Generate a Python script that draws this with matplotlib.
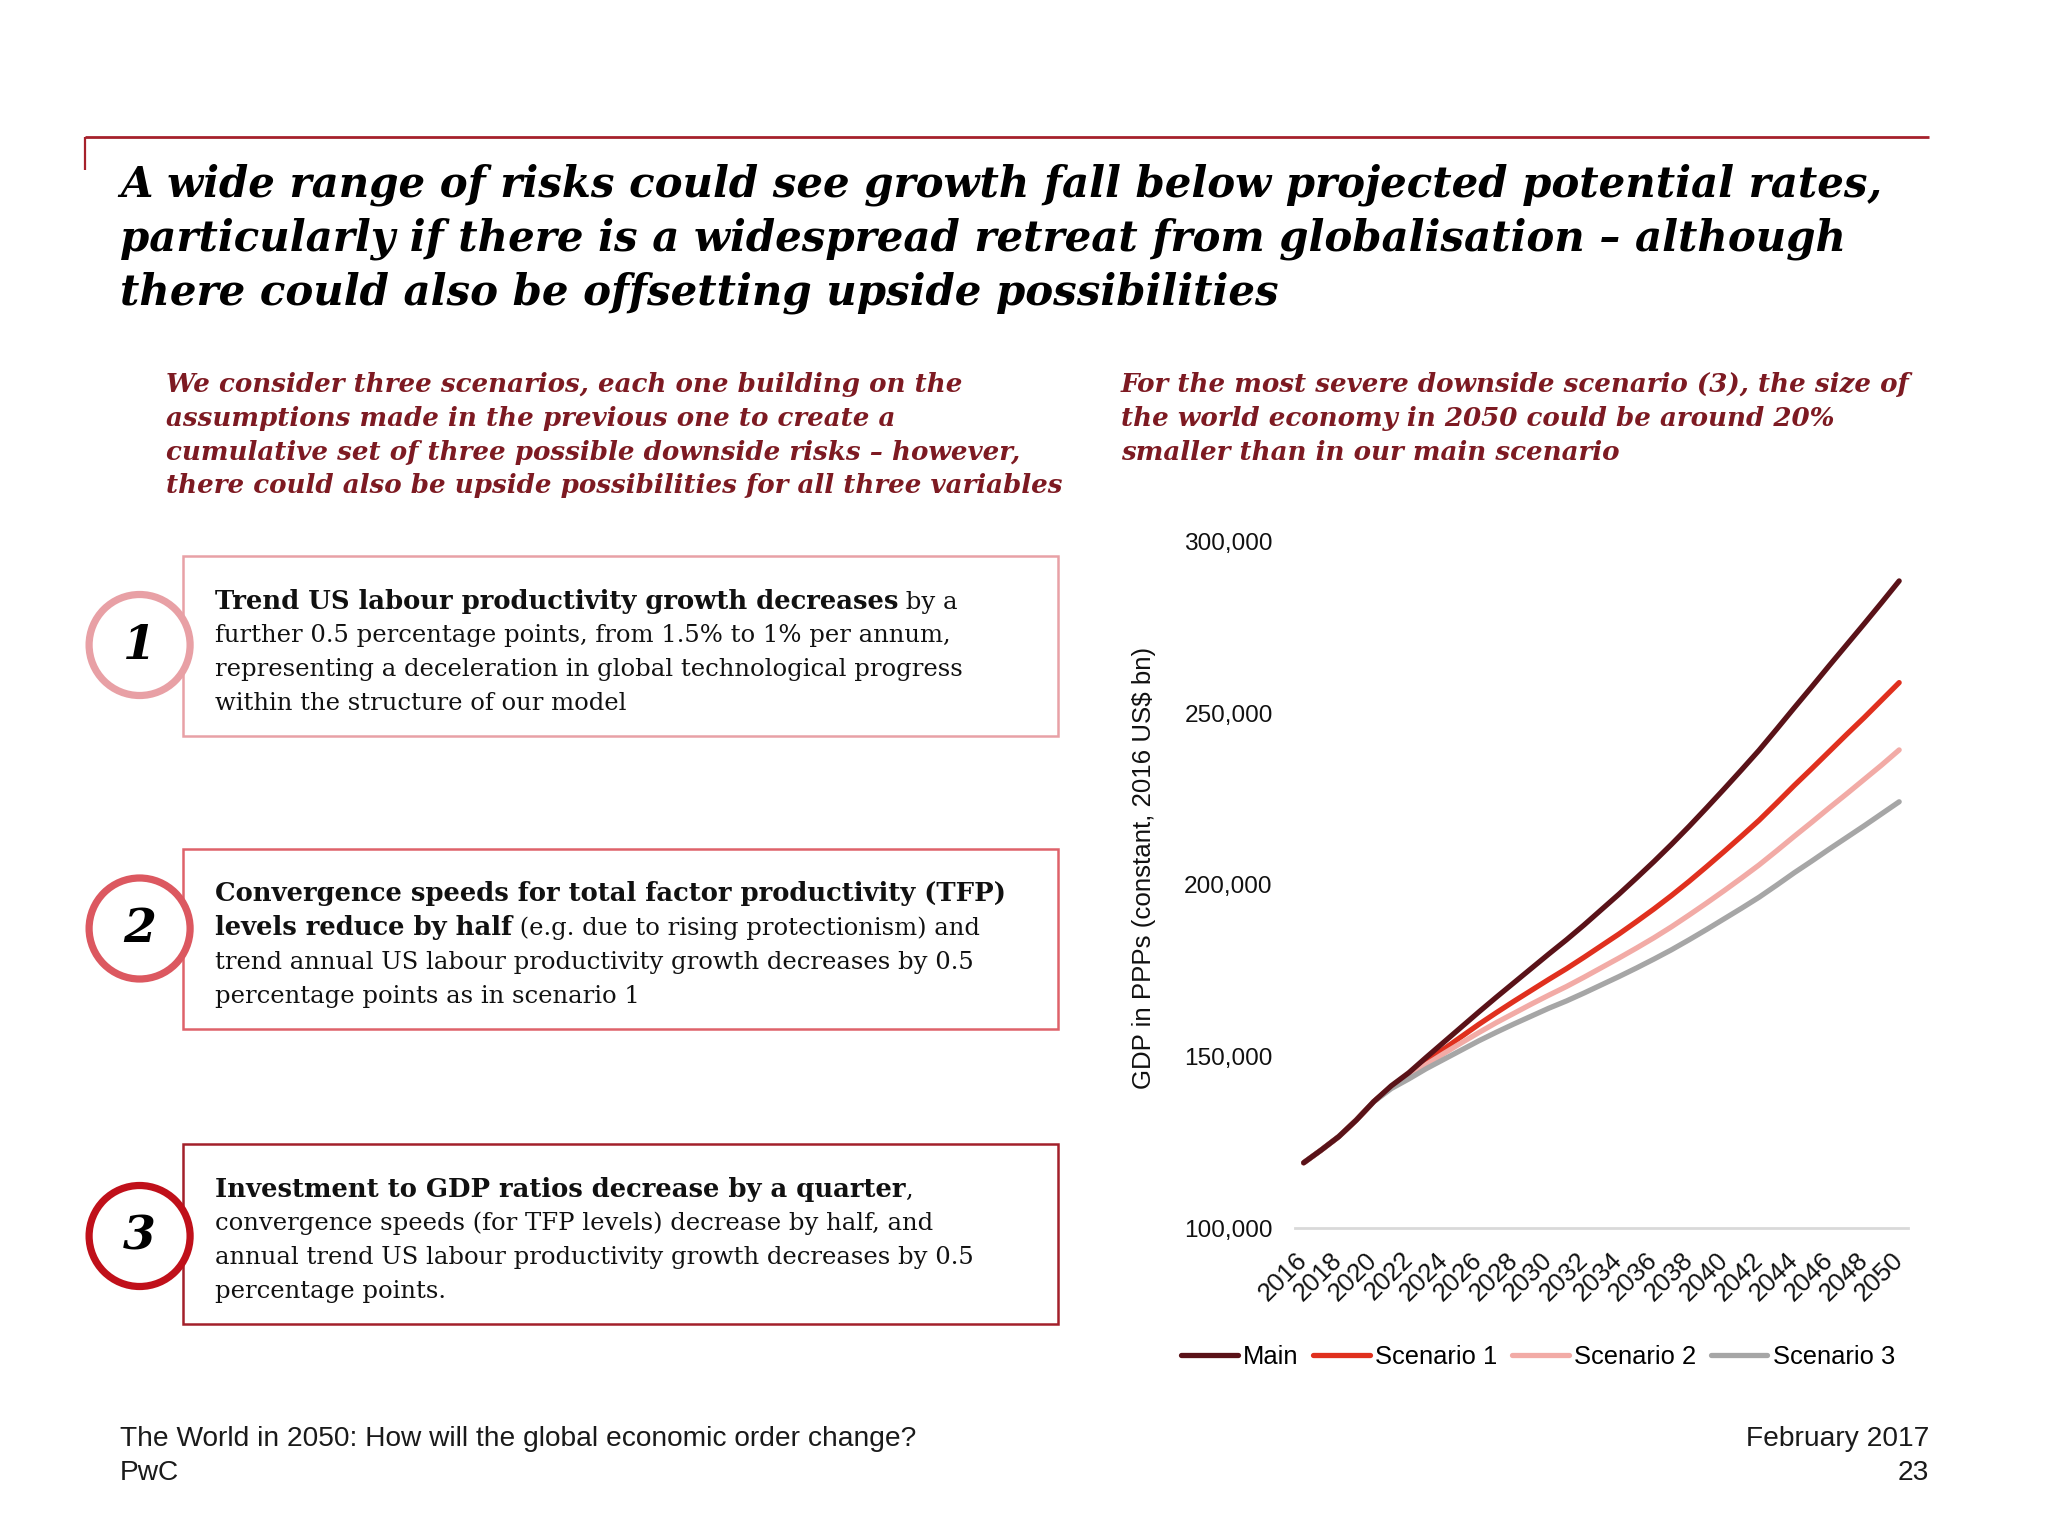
import numpy as np
import matplotlib
matplotlib.use('Agg')
import matplotlib.pyplot as plt
from matplotlib.patches import Rectangle, Circle
from matplotlib.ticker import FuncFormatter

plt.rcParams['font.family'] = ['Liberation Sans', 'DejaVu Sans']

# ---- chart data (GDP in PPPs, constant 2016 US$ bn, read in thousands) ----
years = np.arange(2016, 2051)
main = [119.1, 122.8, 126.7, 131.5, 136.9, 141.5, 145.3, 149.8, 154.2, 158.6,
        163.0, 167.3, 171.5, 175.7, 179.9, 184.0, 188.3, 192.8, 197.3, 202.0,
        206.8, 211.8, 217.0, 222.4, 227.9, 233.5, 239.2, 245.3, 251.5, 257.6,
        263.8, 269.9, 276.0, 282.2, 288.5]
scenario1 = [119.1, 122.8, 126.7, 131.5, 136.9, 141.2, 144.7, 148.6, 152.2, 155.8,
             159.4, 162.8, 166.1, 169.3, 172.5, 175.6, 178.9, 182.3, 185.7, 189.3,
             193.0, 196.9, 201.0, 205.3, 209.7, 214.2, 218.8, 223.8, 228.9, 233.8,
             238.8, 243.8, 248.7, 253.8, 258.9]
scenario2 = [119.1, 122.8, 126.7, 131.5, 136.9, 141.0, 144.2, 147.7, 150.9, 154.0,
             157.0, 159.9, 162.6, 165.3, 167.9, 170.4, 173.1, 175.9, 178.7, 181.6,
             184.6, 187.8, 191.2, 194.7, 198.3, 202.0, 205.8, 209.9, 214.1, 218.2,
             222.4, 226.5, 230.7, 234.9, 239.3]
scenario3 = [119.1, 122.8, 126.7, 131.5, 136.9, 140.7, 143.5, 146.5, 149.2, 151.9,
             154.6, 157.1, 159.5, 161.8, 164.1, 166.2, 168.5, 170.9, 173.3, 175.8,
             178.4, 181.1, 184.0, 187.0, 190.1, 193.2, 196.4, 199.9, 203.5, 206.9,
             210.4, 213.8, 217.2, 220.7, 224.2]
series_names = ['Main', 'Scenario 1', 'Scenario 2', 'Scenario 3']
series_colors = ['#5A1218', '#E0301E', '#F2ABA6', '#A6A6A6']
y_ticks = [100000, 150000, 200000, 250000, 300000]

# ---- slide text ----
title_lines = [
    'A wide range of risks could see growth fall below projected potential rates,',
    'particularly if there is a widespread retreat from globalisation \u2013 although',
    'there could also be offsetting upside possibilities',
]
left_sub = [
    'We consider three scenarios, each one building on the',
    'assumptions made in the previous one to create a',
    'cumulative set of three possible downside risks \u2013 however,',
    'there could also be upside possibilities for all three variables',
]
right_sub = [
    'For the most severe downside scenario (3), the size of',
    'the world economy in 2050 could be around 20%',
    'smaller than in our main scenario',
]
# each line: (bold part, regular part)
box_texts = [
    [('Trend US labour productivity growth decreases', ' by a'),
     ('', 'further 0.5 percentage points, from 1.5% to 1% per annum,'),
     ('', 'representing a deceleration in global technological progress'),
     ('', 'within the structure of our model')],
    [('Convergence speeds for total factor productivity (TFP)', ''),
     ('levels reduce by half', ' (e.g. due to rising protectionism) and'),
     ('', 'trend annual US labour productivity growth decreases by 0.5'),
     ('', 'percentage points as in scenario 1')],
    [('Investment to GDP ratios decrease by a quarter', ','),
     ('', 'convergence speeds (for TFP levels) decrease by half, and'),
     ('', 'annual trend US labour productivity growth decreases by 0.5'),
     ('', 'percentage points.')],
]
box_numbers = ['1', '2', '3']
box_edge = ['#E8A1A6', '#DE626A', '#A3202A']
ring_colors = ['#E8A0A5', '#DC5860', '#C0101A']

rule_red = '#A6212B'
sub_red = '#7D1A22'
serif = 'DejaVu Serif'

fig = plt.figure(figsize=(10.24, 7.68), dpi=200)
bg = fig.add_axes([0, 0, 1, 1])
bg.set_xlim(0, 2048)
bg.set_ylim(1536, 0)
bg.axis('off')

# top rule with little corner tick
bg.plot([85, 1929], [136.5, 136.5], color=rule_red, lw=1.0, solid_capstyle='butt')
bg.plot([85, 85], [136.5, 170], color=rule_red, lw=0.8, solid_capstyle='butt')

for i, line in enumerate(title_lines):
    bg.text(120, 197 + 54 * i, line, family=serif, fontsize=15.1,
            fontweight='bold', fontstyle='italic', va='baseline', ha='left')

for i, line in enumerate(left_sub):
    bg.text(166, 392 + 33.8 * i, line, family=serif, fontsize=9.4, color=sub_red,
            fontweight='bold', fontstyle='italic', va='baseline')
for i, line in enumerate(right_sub):
    bg.text(1121, 392 + 33.8 * i, line, family=serif, fontsize=9.4, color=sub_red,
            fontweight='bold', fontstyle='italic', va='baseline')

# scenario boxes
renderer = fig.canvas.get_renderer()
box_tops = [556, 849, 1144]
circle_y = [645, 928.5, 1236]
for k in range(3):
    top = box_tops[k]
    bg.add_patch(Rectangle((183, top), 1058 - 183, 180, fill=False,
                           ec=box_edge[k], lw=0.9, zorder=2))
    bg.add_patch(Circle((139.6, circle_y[k]), 50.5, fc='white',
                        ec=ring_colors[k], lw=2.6, zorder=3))
    bg.text(139.6, circle_y[k] + 1, box_numbers[k], family=serif, fontsize=17,
            fontweight='bold', fontstyle='italic', ha='center', va='center', zorder=4)
    for j, (bold, regular) in enumerate(box_texts[k]):
        yb = top + 52.5 + 33.8 * j
        x = 215
        if bold:
            t = bg.text(x, yb, bold, family=serif, fontsize=9.3, fontweight='bold',
                        va='baseline', color='#111111')
            x += t.get_window_extent(renderer).width
        if regular:
            bg.text(x, yb, regular, family=serif, fontsize=8.75, va='baseline',
                    color='#111111')

# footer
bg.text(120, 1446, 'The World in 2050: How will the global economic order change?',
        fontsize=10.15, va='baseline', color='#1a1a1a')
bg.text(120, 1480, 'PwC', fontsize=10.15, va='baseline', color='#1a1a1a')
bg.text(1929, 1446, 'February 2017', fontsize=10.15, va='baseline', ha='right', color='#1a1a1a')
bg.text(1929, 1480, '23', fontsize=10.15, va='baseline', ha='right', color='#1a1a1a')

# ---- line chart ----
ax = fig.add_axes([0.6323, 0.2003, 0.2993, 0.4472])
all_series = [main, scenario1, scenario2, scenario3]
handles = []
for vals, name, col in zip(all_series, series_names, series_colors):
    h, = ax.plot(years, np.array(vals) * 1000, color=col, lw=1.9,
                 solid_capstyle='round', label=name)
    handles.append(h)
# main line drawn on top
handles[0].set_zorder(5)

ax.set_xlim(2015.5, 2050.5)
ax.set_ylim(100000, 300000)
ax.set_yticks(y_ticks)
ax.yaxis.set_major_formatter(FuncFormatter(lambda v, p: f'{v:,.0f}'))
ax.set_xticks(years[::2])
ax.tick_params(axis='both', length=0, labelsize=8.8, colors='#111111')
ax.tick_params(axis='x', labelsize=9.3, pad=10)
ax.tick_params(axis='y', pad=8)
plt.setp(ax.get_xticklabels(), rotation=45, ha='right', va='center',
         rotation_mode='anchor')
for s in ['top', 'right', 'left']:
    ax.spines[s].set_visible(False)
ax.spines['bottom'].set_color('#D9D9D9')
ax.spines['bottom'].set_linewidth(1.0)
ax.set_ylabel('GDP in PPPs (constant, 2016 US$ bn)', fontsize=9.3, color='#111111')
ax.yaxis.set_label_coords(-0.226, 0.525)
ax.patch.set_alpha(0)

fig.legend(handles, series_names, loc='center', bbox_to_anchor=(0.751, 0.1165),
           ncol=4, frameon=False, handlelength=2.2, handletextpad=0.2,
           columnspacing=0.6, fontsize=9.2)

fig.savefig('out.png', dpi=200)
